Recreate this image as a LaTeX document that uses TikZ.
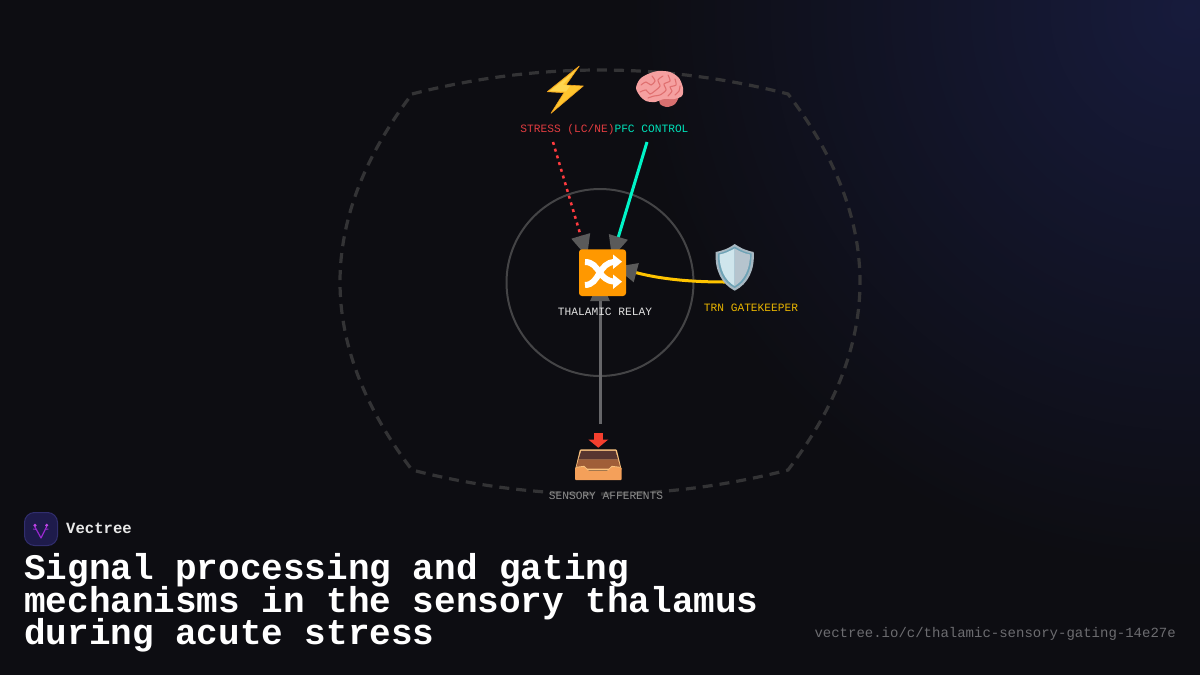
\documentclass[tikz,border=0pt]{standalone}
\usepackage{fontspec}
\setmonofont{Liberation Mono}
\usetikzlibrary{arrows.meta,shapes.geometric}
\definecolor{bgc}{HTML}{0D0D12}
\definecolor{glow}{HTML}{171B3C}
\definecolor{headgrey}{HTML}{5A5A5A}
\definecolor{stressred}{HTML}{FF3B3F}
\definecolor{pfcteal}{HTML}{00F5C8}
\definecolor{trngold}{HTML}{FFC400}
\definecolor{boundgrey}{HTML}{333335}
\definecolor{ringgrey}{HTML}{444446}
\definecolor{affgrey}{HTML}{666669}
\definecolor{boltedge}{HTML}{F2A31F}
\definecolor{boltmain}{HTML}{FFC52E}
\definecolor{bolthi}{HTML}{FFD650}
\definecolor{braindark}{HTML}{D87070}
\definecolor{brainmain}{HTML}{F5A0A0}
\definecolor{brainline}{HTML}{E07070}
\definecolor{shuforange}{HTML}{FF9800}
\definecolor{shieldrim}{HTML}{A8B8C2}
\definecolor{shieldmid}{HTML}{6FA3B6}
\definecolor{shieldl}{HTML}{CFE5EC}
\definecolor{shieldr}{HTML}{B6C4CE}
\definecolor{inred}{HTML}{F43F2E}
\definecolor{inrim}{HTML}{F9C27E}
\definecolor{indark}{HTML}{583630}
\definecolor{inmid}{HTML}{A05E38}
\definecolor{infront}{HTML}{F4A05A}
\definecolor{lblstress}{HTML}{E03C40}
\definecolor{lblpfc}{HTML}{00E1B9}
\definecolor{lblrelay}{HTML}{E0E0E0}
\definecolor{lbltrn}{HTML}{E8B400}
\definecolor{lblsens}{HTML}{8C8C8C}
\definecolor{logofill}{HTML}{1E1B4B}
\definecolor{logoedge}{HTML}{312E6E}
\definecolor{logov}{HTML}{9628CD}
\definecolor{logodot}{HTML}{BE46E6}
\definecolor{brandc}{HTML}{E8E8E8}
\definecolor{urlc}{HTML}{6C6C70}
\tikzset{
  nodelabel/.style={font=\ttfamily\fontsize{11.2}{13}\selectfont,inner sep=0pt,anchor=base},
  connector/.style={line width=#1,-{Triangle[length=22pt,width=19pt,color=headgrey]}},
  connector/.default=2.5pt,
  boundary/.style={draw=boundgrey,line width=3.2pt,dash pattern=on 10pt off 7pt},
  iconbox/.style={inner sep=0pt,minimum size=46pt},
  titleline/.style={font=\ttfamily\bfseries\fontsize{36}{32.4}\selectfont,white,inner sep=0pt,anchor=base west}
}
\begin{document}
\begin{tikzpicture}[x=1pt,y=-1pt]
\useasboundingbox (0,0) rectangle (1200,675);
\fill[bgc] (0,0) rectangle (1200,675);
\begin{scope}
  \clip (0,0) rectangle (1200,675);
  \shade[inner color=glow,outer color=bgc] (1190,10) circle (560);
\end{scope}

% outer dashed boundary
\draw[boundary]
  (412,94) .. controls (537,62) and (663,62) .. (788,94)
  .. controls (836,157) and (860,220) .. (860,282)
  .. controls (860,344) and (836,407) .. (788,470)
  .. controls (663,502) and (537,502) .. (412,470)
  .. controls (364,407) and (340,344) .. (340,282)
  .. controls (340,220) and (364,157) .. (412,94);

% inner circle
\node[circle,draw=ringgrey,line width=2pt,minimum size=187pt,inner sep=0pt] (relayring) at (600,282.5) {};

% named connector ends
\coordinate (stressout) at (553,142);
\coordinate (pfcout) at (647,142);
\coordinate (trnout) at (725,282);
\coordinate (sensout) at (600,424);
\coordinate (relayA) at (587,257);
\coordinate (relayB) at (612,258);
\coordinate (relayC) at (615,267);
\coordinate (relayD) at (600,279);

\draw[connector=2.5pt,stressred,dash pattern=on 3pt off 4pt] (stressout) -- (relayA);
\draw[connector=3pt,pfcteal] (pfcout) -- (relayB);
\draw[connector=3pt,trngold] (trnout) .. controls (690,282) and (660,279) .. (relayC);
\draw[connector=3pt,affgrey] (sensout) -- (relayD);

% lightning emoji
\node[iconbox] (stressicon) at (565,90) {};
\fill[boltmain,draw=boltedge,line width=.6pt,line join=round]
  (579.3,66) -- (547.3,91.7) -- (564,92.7) -- (551,113.3) -- (583.3,86) -- (566,85) -- cycle;
\fill[bolthi] (575,71) -- (550,91) -- (566,91.5) -- (570,86) -- (563,84.5) -- cycle;

% brain emoji
\node[iconbox] (pfcicon) at (659,89) {};
\fill[braindark] plot[smooth cycle] coordinates {(660,98) (668,96) (679,95) (675,104) (667,107) (660,104)};
\fill[brainmain] plot[smooth cycle] coordinates {(636,88) (640,79) (648,74) (658,71) (670,72) (679,78) (683,88) (682,96) (674,99) (664,99) (655,102) (646,101) (640,96)};
\begin{scope}[line width=1.1pt,line cap=round]
  \draw[brainline] plot[smooth] coordinates {(641,85) (646,82) (651,85) (655,81) (652,76)};
  \draw[brainline] plot[smooth] coordinates {(640,92) (646,90) (650,94) (656,90) (660,86) (658,80) (663,76)};
  \draw[brainline] plot[smooth] coordinates {(648,98) (654,96) (660,95) (666,90) (664,84) (670,81) (668,75)};
  \draw[brainline] plot[smooth] coordinates {(668,96) (672,91) (670,87) (676,85) (675,79)};
  \draw[brainline] plot[smooth] coordinates {(675,95) (679,91) (680,86)};
\end{scope}

% shuffle emoji
\node[iconbox] (relayicon) at (602.5,272.5) {};
\fill[shuforange,rounded corners=3pt] (579,249.3) rectangle (626,296);
\begin{scope}[line width=6pt]
  \draw[white] (585,285) .. controls (600,285) and (598,262) .. (615,262);
  \draw[white] (585,262) .. controls (600,262) and (598,281.5) .. (615,281.5);
  \fill[white] (613,254.5) -- (622,261.7) -- (613,269) -- cycle;
  \fill[white] (613,274.5) -- (622,281.7) -- (613,289) -- cycle;
\end{scope}

% shield emoji
\node[iconbox] (trnicon) at (734.5,267.5) {};
\fill[shieldrim] (734.7,244) .. controls (742,249) and (748,251) .. (753.7,252)
  .. controls (755,270) and (748,284) .. (734.7,290.7)
  .. controls (721.5,284) and (714.5,270) .. (715.7,252)
  .. controls (721,251) and (728,249) .. (734.7,244) -- cycle;
\fill[shieldmid] (734.7,246.5) .. controls (741,250.5) and (746,252.5) .. (751.5,253.5)
  .. controls (752,270) and (746,282) .. (734.7,288)
  .. controls (723,282) and (717,270) .. (718,253.5)
  .. controls (723,252.5) and (728,250.5) .. (734.7,246.5) -- cycle;
\fill[shieldl] (734.7,248.5) .. controls (729,251.5) and (725,253.5) .. (719.5,254.5)
  .. controls (719.5,269) and (725,280.5) .. (734.7,286) -- cycle;
\fill[shieldr] (734.7,248.5) .. controls (740,251.5) and (744,253.5) .. (750,254.5)
  .. controls (750,269) and (744,280.5) .. (734.7,286) -- cycle;

% inbox emoji
\node[iconbox] (sensicon) at (598.5,457) {};
\fill[inred] (594,433.3) rectangle (602.7,439.5);
\fill[inred] (588.3,439.5) -- (608.3,439.5) -- (598.3,447.7) -- cycle;
\fill[inrim,rounded corners=1pt] (580,449.3) -- (616.7,449.3) -- (621.7,470) -- (575,470) -- cycle;
\fill[indark] (581.2,450.8) -- (615.5,450.8) -- (618,459.5) -- (578.5,459.5) -- cycle;
\fill[inmid] (578.5,459.5) -- (618,459.5) -- (620.5,468.5) -- (576,468.5) -- cycle;
\fill[infront,rounded corners=.8pt] (575,467.5) -- (584,466.5) -- (588,470.5) -- (608,470.5) -- (612,466.5) -- (621.7,467.5) -- (621.7,480) -- (575,480) -- cycle;
\draw[inrim,line width=.8pt] (576,467.3) -- (584,466.3) -- (588,470) -- (608,470) -- (612,466.3) -- (620.5,467.3);

% labels
\node[nodelabel,lblstress] (stresslabel) at (567.5,132) {STRESS (LC/NE)};
\node[nodelabel,lblpfc] (pfclabel) at (651.5,132) {PFC CONTROL};
\node[nodelabel,lblrelay] (relaylabel) at (605,315) {THALAMIC RELAY};
\node[nodelabel,lbltrn] (trnlabel) at (751,311) {TRN GATEKEEPER};
\node[nodelabel,lblsens] (senslabel) at (606,499) {SENSORY AFFERENTS};

% logo
\node[rounded corners=10pt,fill=logofill,draw=logoedge,line width=1pt,minimum size=33pt,inner sep=0pt] (logo) at (41,529) {};
\draw[logov,line width=1.2pt,line cap=round,line join=round] (35,527) -- (41,538) -- (46.5,527);
\fill[logodot] (35,525.3) circle (1.7) (46.7,525.3) circle (1.7);
\draw[logov,line width=.9pt] (33,529) -- (36.5,529.5) (48.5,529) -- (45,529.5);
\node[font=\ttfamily\bfseries\fontsize{15.6}{18}\selectfont,text=brandc,inner sep=0pt,anchor=base west] (brand) at (66,533.5) {Vectree};

% title
\node[titleline] (title1) at (24,579.5) {Signal processing and gating};
\node[titleline] (title2) at (24,612) {mechanisms in the sensory thalamus};
\node[titleline] (title3) at (24,644.5) {during acute stress};

% url
\node[font=\ttfamily\fontsize{14}{16}\selectfont,text=urlc,inner sep=0pt,anchor=base east] (url) at (1176,637.5) {vectree.io/c/thalamic-sensory-gating-14e27e};
\end{tikzpicture}
\end{document}
